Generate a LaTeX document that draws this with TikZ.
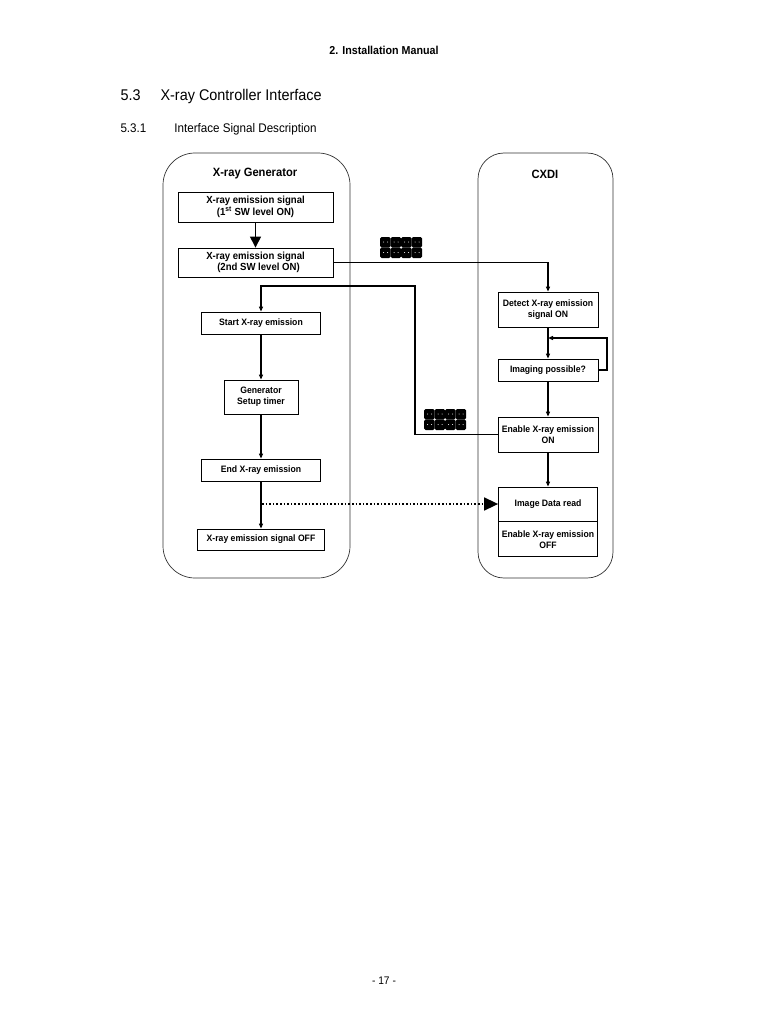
\documentclass[tikz,border=0pt]{standalone}
\usepackage{fontspec}
\setmainfont{Liberation Sans}[FakeStretch=0.93]
\usetikzlibrary{arrows.meta}
\begin{document}
\begin{tikzpicture}[x=1pt,y=-1pt,
  box/.style={draw,line width=0.8pt,inner sep=0pt,align=center,font=\fontsize{9.3}{11}\selectfont\bfseries},
  bigbox/.style={box,font=\fontsize{10.3}{11.5}\selectfont\bfseries},
  cont/.style={draw=black!80,line width=0.7pt},
  conn/.style={line width=1.6pt},
  sarr/.style={conn,-{Triangle[length=5pt,width=4pt]}},
  barr/.style={line width=1.1pt,-{Triangle[length=11pt,width=11pt]}},
  blob/.style={fill=black,rounded corners=1.5pt}
]
\useasboundingbox (0,0) rectangle (768,1024);
% headers
\node[font=\fontsize{11.5}{13}\selectfont\bfseries] (hdr) at (384,50) {2. Installation Manual};
\node[anchor=west,font=\fontsize{15.5}{18}\selectfont] (sec) at (117,96) {5.3\hspace{20pt}X-ray Controller Interface};
\node[anchor=west,font=\fontsize{12.5}{15}\selectfont] (subsec) at (117,129) {5.3.1\hspace{28pt}Interface Signal Description};
\node[font=\fontsize{11}{13}\selectfont] (pg) at (384,981) {- 17 -};
% containers
\draw[cont,rounded corners=32pt] (163,153) rectangle (350,578);
\draw[cont,rounded corners=26pt] (478,153) rectangle (613,578);
\node[font=\fontsize{12}{14}\selectfont\bfseries] (tgen) at (255,174) {X-ray Generator};
\node[font=\fontsize{12}{14}\selectfont\bfseries] (tcx) at (545,174) {CXDI};
% boxes
\node[bigbox,minimum width=155pt,minimum height=30pt] (b1) at (255.5,207) {X-ray emission signal\\(1\textsuperscript{st} SW level ON)};
\node[bigbox,minimum width=155pt,minimum height=29pt] (b2) at (255.5,262.5) {X-ray emission signal\\\hspace{6pt}(2nd SW level ON)};
\node[box,minimum width=100pt,minimum height=35pt] (det) at (548,309.5) {Detect X-ray emission\\signal ON};
\node[box,minimum width=100pt,minimum height=22pt] (img) at (548,370) {Imaging possible?};
\node[box,minimum width=100pt,minimum height=35pt] (ena) at (548,434.5) {Enable X-ray emission\\ON};
\node[box,minimum width=119pt,minimum height=22pt] (start) at (261,323) {Start X-ray emission};
\node[box,minimum width=74pt,minimum height=34pt] (gen) at (261,397) {Generator\\Setup timer};
\node[box,minimum width=119pt,minimum height=22pt] (end) at (261,470) {End X-ray emission};
\node[box,minimum width=127pt,minimum height=21pt] (off) at (261,539.5) {X-ray emission signal OFF};
\node[box,minimum width=99pt,minimum height=34pt] (read) at (548,504) {Image Data read};
\node[box,minimum width=99pt,minimum height=35pt,anchor=north] (enoff) at (read.south) {Enable X-ray emission\\OFF};
% connectors
\draw[barr] (b1.south) -- (b2.north);
\draw[sarr,line width=1.2pt] (b2.east) -- (b2.east -| det.north) -- (det.north);
\draw[sarr] (det.south) -- (img.north);
\coordinate (lp) at (548,338);
\draw[sarr] (img.east) -- (607,370) -- (607,338) -- (lp);
\draw[sarr] (img.south) -- (ena.north);
\draw[sarr] (ena.west) -- (415,434.5) -- (415,286) -- (261,286) -- (start.north);
\draw[sarr] (start.south) -- (gen.north);
\draw[sarr] (gen.south) -- (end.north);
\draw[sarr] (end.south) -- (off.north);
\draw[sarr] (ena.south) -- (read.north);
\coordinate (ds) at (262,504);
\draw[line width=1.6pt,dotted,-{Triangle[length=14pt,width=13pt]}] (ds) -- (read.west);
% garbled label blobs
\foreach \bx/\by in {380/237, 424/409}{
  \foreach \i in {0,1,2,3}{
    \foreach \j in {0,1}{
      \fill[blob] (\bx+\i*10.5,\by+\j*10.5) rectangle (\bx+\i*10.5+10.5,\by+\j*10.5+10.5);
      \fill[white] (\bx+\i*10.5+3.5,\by+\j*10.5+5) circle (0.5pt);
      \fill[white] (\bx+\i*10.5+7.5,\by+\j*10.5+5) circle (0.5pt);
    }
  }
}
\end{tikzpicture}
\end{document}
